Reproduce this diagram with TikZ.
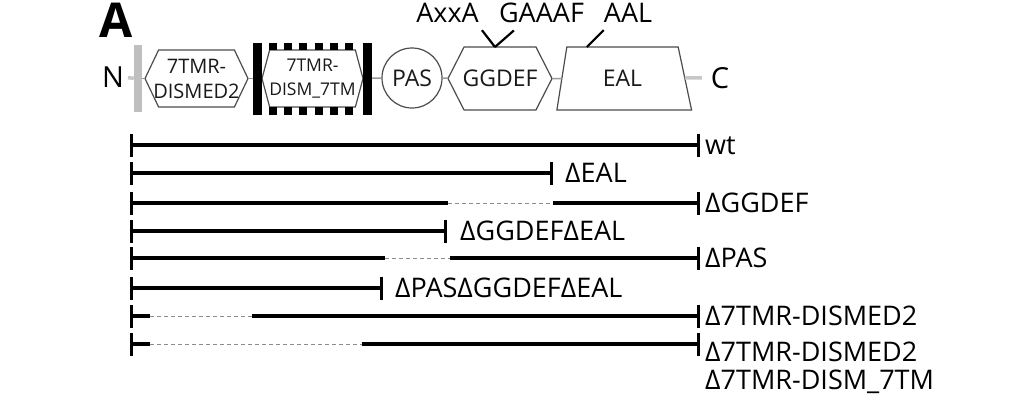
\documentclass[tikz,border=0pt]{standalone}
\usepackage{fontspec}
\setmainfont{Open Sans}
\usetikzlibrary{arrows.meta,shapes.geometric,shapes.symbols,positioning}
\tikzstyle{dombox}=[draw=black!70,line width=1.2pt,fill=white,inner sep=0pt,outer sep=0pt]
\tikzstyle{hexa}=[dombox,signal,signal to=west and east]
\tikzstyle{domtext}=[font=\fontsize{23}{25}\selectfont,align=center,text=black!90]
\tikzstyle{linker}=[draw=black!40,line width=1.5pt]
\tikzstyle{thicklinker}=[draw=black!22,line width=3.5pt]
\tikzstyle{motif}=[font=\fontsize{27}{28}\selectfont,anchor=base,inner sep=0pt]
\tikzstyle{pointer}=[draw,line width=2.2pt]
\tikzstyle{track}=[draw,line width=3.5pt]
\tikzstyle{gap}=[draw=black!45,line width=1pt,dash pattern=on 4pt off 3pt]
\tikzstyle{construct}=[font=\fontsize{27}{28}\selectfont,anchor=base west,inner sep=0pt]

\begin{document}
\begin{tikzpicture}[x=1pt,y=-1pt,>={Bar[width=23pt,line width=3pt]}]
    \useasboundingbox (0,0) rectangle (1036,408);
    % domain architecture
    \node[font=\fontsize{48}{50}\selectfont\bfseries,anchor=base,inner sep=0pt] (panel) at (116,37) {A};
    \node[font=\fontsize{29}{30}\selectfont,anchor=base,inner sep=0pt,outer sep=4pt] (N) at (113,87) {N};
    \node[font=\fontsize{29}{30}\selectfont,anchor=base,inner sep=0pt,outer sep=9pt] (C) at (720,88) {C};
    \node[fill=black!25,minimum width=8pt,minimum height=67pt,inner sep=0pt] (bar) at (138,78.5) {};
    \node[hexa,minimum width=103pt,minimum height=57pt,signal pointer angle=129,
          label={[domtext,font=\fontsize{20}{25}\selectfont]center:7TMR-\\DISMED2}] (dismed) at (196.5,78.5) {};
    \node[hexa,minimum width=101pt,minimum height=57pt,signal pointer angle=150,
          label={[domtext,font=\fontsize{17.5}{24}\selectfont]center:7TMR-\\DISM\_7TM}] (dism) at (312.5,78.5) {};
    \node[dombox,circle,minimum size=60pt,domtext] (pas) at (412,78) {PAS};
    \node[hexa,minimum width=104pt,minimum height=63pt,signal pointer angle=126,
          label={[domtext]center:GGDEF}] (ggdef) at (500,78.5) {};
    \node[dombox,trapezium,trapezium left angle=78,trapezium right angle=74,trapezium stretches,
          minimum width=135pt,minimum height=63pt,domtext] (eal) at (622.5,78.5) {EAL};

    \draw[thicklinker] (N) -- (bar);
    \foreach \a/\b in {bar/dismed, dismed/dism, dism/pas, pas/ggdef, ggdef/eal}
        \draw[linker] (\a) -- (\b);
    \draw[thicklinker] (eal) -- (C);

    % transmembrane stripes
    \fill (253,43) rectangle (262,115);
    \fill (363,43) rectangle (372,115);
    \foreach \k in {0,...,5} {
        \fill (269+15.2*\k,43) rectangle ++(8,7);
        \fill (269+15.2*\k,107) rectangle ++(8,8);
    }

    % motifs
    \node[motif] (axxa) at (447.5,22) {AxxA};
    \node[motif] (gaaaf) at (541.5,22) {GAAAF};
    \node[motif] (aal) at (628,22) {AAL};
    \draw[pointer] ([shift={(3,8)}]axxa.south east) -- ([xshift=-5pt]ggdef.north);
    \draw[pointer] ([shift={(15,8)}]gaaaf.south west) -- ([xshift=-5pt]ggdef.north);
    \draw[pointer] ([shift={(0,8)}]aal.south west) -- ([xshift=20pt]eal.top left corner);

    % truncations
    \foreach \i/\y/\stop/\gap/\txt in {1/145/700/5/wt, 2/173/553/12/ΔEAL, 4/231/447/13/ΔGGDEFΔEAL, 6/288/383/12/ΔPASΔGGDEFΔEAL}
    {
        \coordinate (s\i) at (130,\y);
        \coordinate (e\i) at (\stop,\y);
        \draw[track,<->] (s\i) -- (e\i);
        \node[construct] (lab\i) at ([xshift=\gap pt,yshift=-9.6pt]e\i) {\txt};
    }
    % internal deletions
    \foreach \i/\y/\from/\to/\dy/\txt in {3/203/448/553/9.6/ΔGGDEF, 5/258/385/450/9.6/ΔPAS, 7/316/150/252/9.6/Δ7TMR-DISMED2, 8/344/150/362/17.6/Δ7TMR-DISMED2}
    {
        \coordinate (s\i) at (130,\y);
        \coordinate (a\i) at (\from,\y);
        \coordinate (b\i) at (\to,\y);
        \coordinate (e\i) at (700,\y);
        \draw[track,<-] (s\i) -- (a\i);
        \draw[gap] (a\i) -- (b\i);
        \draw[track,->] (b\i) -- (e\i);
        \node[construct] (lab\i) at ([xshift=5pt,yshift=-\dy pt]e\i) {\txt};
    }
    \node[construct] (lab8b) at ([yshift=-28pt]lab8.base west) {Δ7TMR-DISM\_7TM};
\end{tikzpicture}
\end{document}
